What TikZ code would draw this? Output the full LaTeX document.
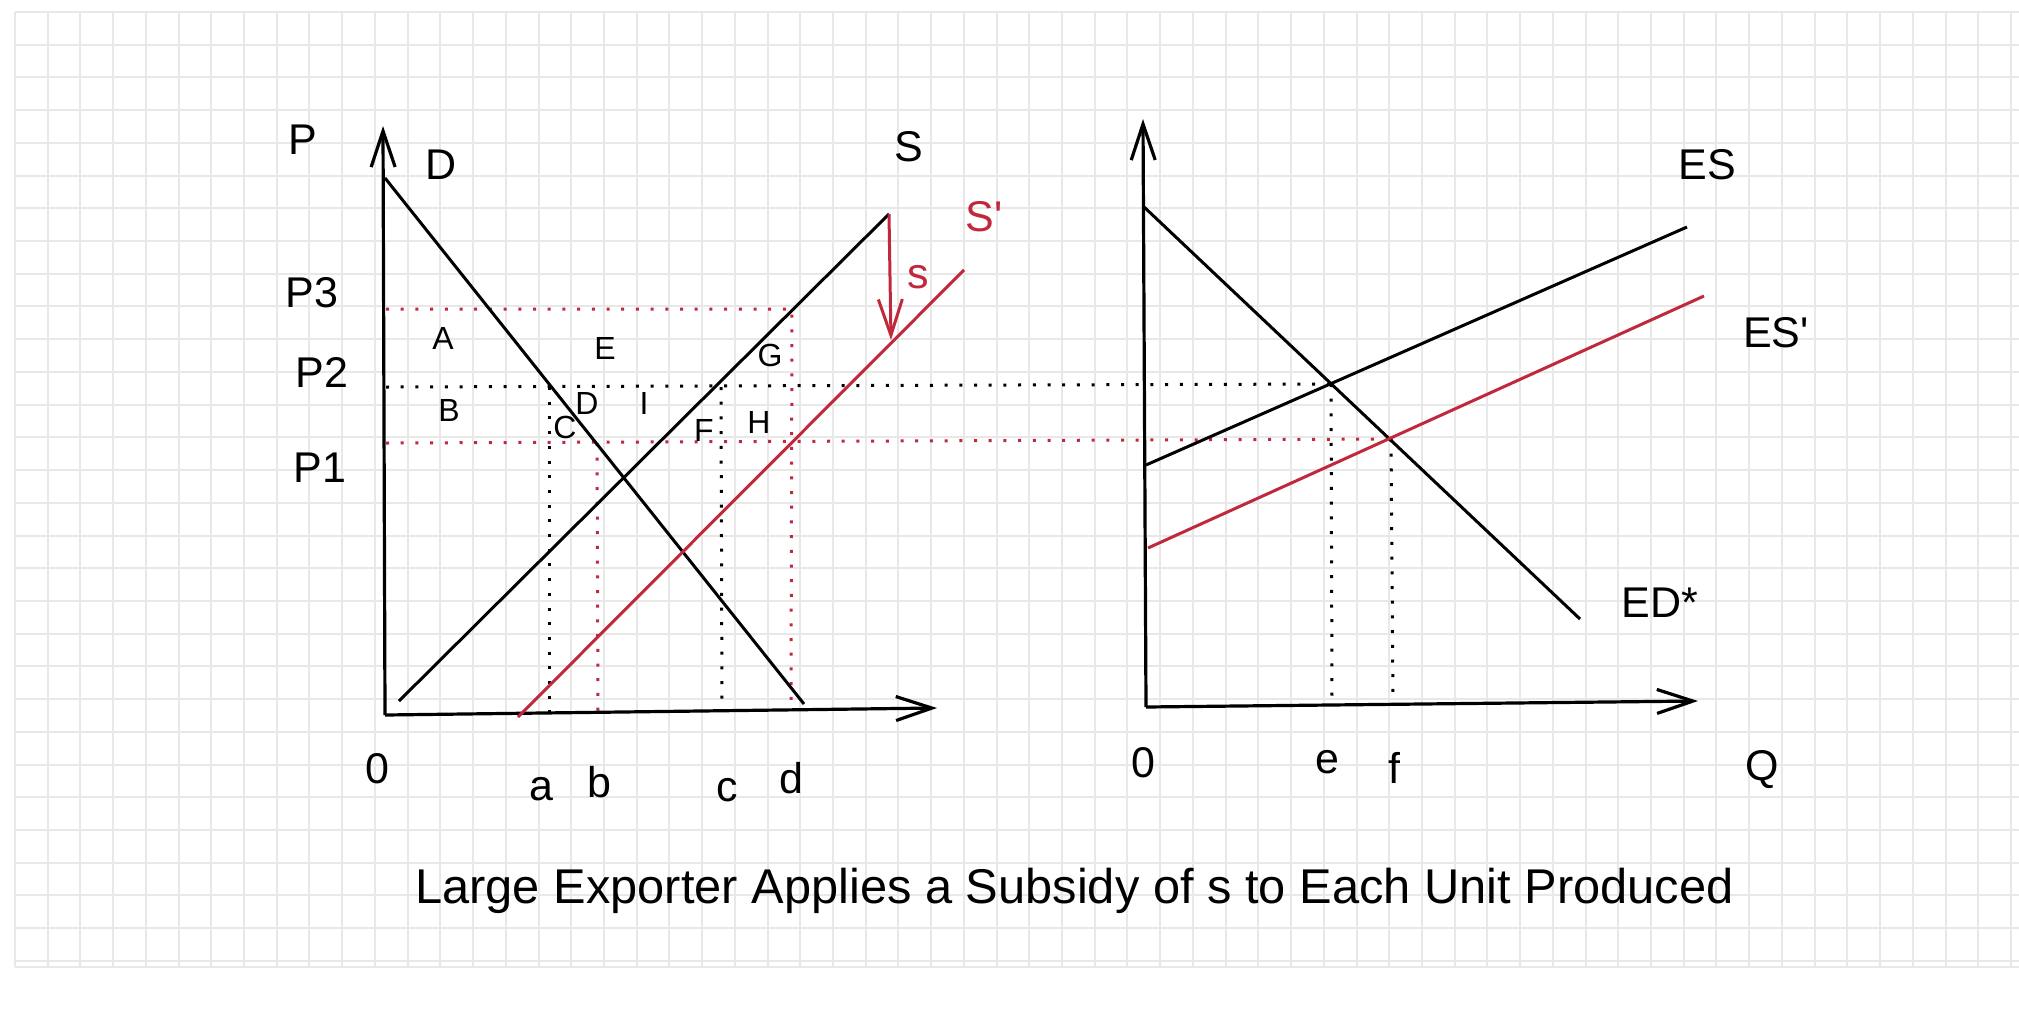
\documentclass[tikz,border=0pt]{standalone}
\usepackage{fontspec}
\setmainfont{Liberation Sans}[Ligatures=TeXOff]
\usetikzlibrary{arrows.meta}
\definecolor{subred}{RGB}{192,40,60}
\definecolor{gridc}{RGB}{232,232,232}
\begin{document}
\begin{tikzpicture}[x=0.5pt,y=-0.5pt,line join=round,
  curve/.style={line width=1.5pt,black},
  redcurve/.style={line width=1.5pt,subred},
  axis/.style={line width=1.6pt,-{Straight Barb[length=18pt,width=12pt]}},
  dotblack/.style={line width=1.5pt,dash pattern=on 1.5pt off 5.85pt},
  dotred/.style={dotblack,subred},
  lbl/.style={font=\fontsize{21.5}{24}\selectfont,inner sep=0pt},
  area/.style={font=\fontsize{16}{18}\selectfont,inner sep=0pt},
  gridline/.style={gridc,line width=1pt}]
\useasboundingbox (0,0) rectangle (2019,1013);
% background grid
\foreach \i in {0,...,61} \draw[gridline] ({15+32.72*\i},12) -- ({15+32.72*\i},967);
\foreach \j in {0,...,29} \draw[gridline] (15,{12+32.72*\j}) -- (2019,{12+32.72*\j});
\draw[gridline] (15,967) -- (2019,967);

% ---------- left panel coordinates ----------
\coordinate (O1) at (385,715);
\coordinate (Ytop1) at (383,126);
\coordinate (Xend1) at (937,708);
\coordinate (Dtop) at (385,178);
\coordinate (Dbot) at (804,704);
\coordinate (Sbot) at (399,701);
\coordinate (Stop) at (889,214);
\coordinate (Spbot) at (518,717);
\coordinate (Sptop) at (964,270);
\coordinate (sarr) at (891,340);
\coordinate (P3l) at (386,309);
\coordinate (P3r) at (792,309);
\coordinate (dbot) at (791,702);
\coordinate (P2l) at (386,387);
\coordinate (P1l) at (386,443);
\coordinate (atop) at (549,387);
\coordinate (abot) at (549,712);
\coordinate (btop) at (597,443);
\coordinate (bbot) at (598,712);
\coordinate (ctop) at (721,387);
\coordinate (cbot) at (722,711);

% ---------- right panel coordinates ----------
\coordinate (O2) at (1146,707);
\coordinate (Ytop2) at (1143,119);
\coordinate (Xend2) at (1698,701);
\coordinate (EDtop) at (1143,206);
\coordinate (EDbot) at (1580,619);
\coordinate (ESl) at (1146,465);
\coordinate (ESr) at (1687,227);
\coordinate (ESpl) at (1148,548);
\coordinate (ESpr) at (1704,296);
\coordinate (eq2) at (1331,384);
\coordinate (eq1) at (1391,439);
\coordinate (ebot) at (1332,700);
\coordinate (fbot) at (1393,700);

% dotted guides
\draw[dotred] (P3l) -- (P3r) -- (dbot);
\draw[dotblack] (P2l) -- (eq2);
\draw[dotred] (P1l) -- (eq1);
\draw[dotblack] (atop) -- (abot);
\draw[dotred] (btop) -- (bbot);
\draw[dotblack] (ctop) -- (cbot);
\draw[dotblack] (eq2) -- (ebot);
\draw[dotblack] (eq1) -- (fbot);

% axes
\draw[axis] (O1) -- (Ytop1);
\draw[axis] (O1) -- (Xend1);
\draw[axis] (O2) -- (Ytop2);
\draw[axis] (O2) -- (Xend2);

% curves
\draw[curve] (Dtop) -- (Dbot);
\draw[curve] (Sbot) -- (Stop);
\draw[redcurve] (Spbot) -- (Sptop);
\draw[redcurve,-{Straight Barb[length=18pt,width=12pt]}] (Stop) -- (sarr);
\draw[curve] (EDtop) -- (EDbot);
\draw[curve] (ESl) -- (ESr);
\draw[redcurve] (ESpl) -- (ESpr);

% labels left
\node[lbl] (lP) at (303,140) {P};
\node[lbl] (lD) at (441,165) {D};
\node[lbl] (lS) at (909,147) {S};
\node[lbl,text=subred] (lSp) at (984,217) {S'};
\node[lbl,text=subred] (ls) at (918,277) {s};
\node[lbl] (lP3) at (312,293) {P3};
\node[lbl] (lP2) at (322,372) {P2};
\node[lbl] (lP1) at (320,468) {P1};
\node[area] (aA) at (443,338) {A};
\node[area] (aE) at (605,348) {E};
\node[area] (aG) at (770,355) {G};
\node[area] (aB) at (449,410) {B};
\node[area] (aC) at (565,427) {C};
\node[area] (aD) at (587,403) {D};
\node[area] (aI) at (644,403) {I};
\node[area] (aF) at (704,430) {F};
\node[area] (aH) at (759,422) {H};
\node[lbl,anchor=base] (l0a) at (377,783) {0};
\node[lbl,anchor=base] (la) at (541,800) {a};
\node[lbl,anchor=base] (lb) at (599,797) {b};
\node[lbl,anchor=base] (lc) at (727,801) {c};
\node[lbl,anchor=base] (ld) at (791,793) {d};

% labels right
\node[lbl] (lES) at (1707,165) {ES};
\node[lbl] (lESp) at (1776,333) {ES'};
\node[lbl] (lED) at (1660,603) {ED*};
\node[lbl,anchor=base] (l0b) at (1143,777) {0};
\node[lbl,anchor=base] (le) at (1327,773) {e};
\node[lbl,anchor=base] (lf) at (1394,783) {f};
\node[lbl,anchor=base] (lQ) at (1762,780) {Q};

% title
\node[anchor=base,inner sep=0pt,font=\fontsize{24.4}{28}\selectfont] (title) at (1074.5,903)
  {Large Exporter Applies a Subsidy of s to Each Unit Produced};
\end{tikzpicture}
\end{document}
